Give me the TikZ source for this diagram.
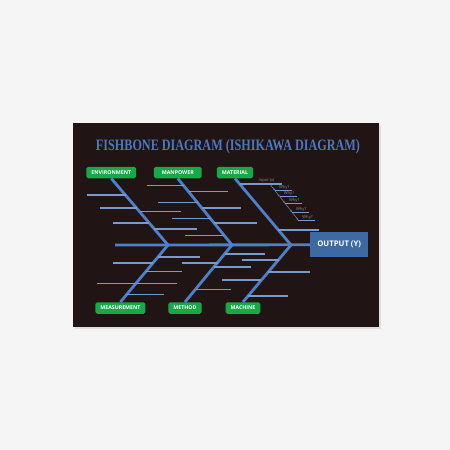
\documentclass[tikz,border=0pt]{standalone}
\usepackage{graphicx}
\usepackage{fontspec}
\setsansfont{Open Sans}
\newfontfamily\titlefont{Liberation Serif}
\usepackage{tikz}
\usetikzlibrary{arrows.meta}
\definecolor{pagebg}{RGB}{245,245,245}
\definecolor{boardbg}{RGB}{33,20,20}
\definecolor{titleblue}{RGB}{78,120,186}
\definecolor{bonecolor}{RGB}{76,128,200}
\definecolor{ribcolor}{RGB}{122,154,204}
\definecolor{causegreen}{RGB}{23,168,71}
\definecolor{effectblue}{RGB}{62,106,163}
\definecolor{whygray}{RGB}{140,140,150}
\tikzset{
    cause/.style={fill=causegreen, rounded corners=1.5pt, text=white, font=\sffamily\bfseries\fontsize{4.5}{5}\selectfont, minimum height=0.345cm, inner xsep=0.15cm, inner ysep=0pt},
    effect/.style={fill=effectblue, text=white, font=\sffamily\bfseries\fontsize{6.6}{7}\selectfont, minimum width=1.75cm, minimum height=0.75cm, inner sep=0pt},
    bone/.style={draw=bonecolor, line width=2.4pt},
    rib/.style={draw=ribcolor, line width=1.7pt},
    whyline/.style={draw=ribcolor, line width=0.6pt},
    whystep/.style={draw=whygray, line width=0.4pt, -{Stealth[length=1.8pt, width=1.5pt]}},
    whytext/.style={text=whygray, font=\sffamily\fontsize{3.5}{4}\selectfont, inner sep=0.4pt, anchor=south}
}
\begin{document}
\begin{tikzpicture}[x=0.03cm, y=-0.03cm]
            \fill[pagebg] (0,0) rectangle (450,450);
            \useasboundingbox (0,0) rectangle (450,450);
            \fill[gray!25] (75,125) rectangle (380.5,328.5);
            \fill[boardbg] (73,123) rectangle (379,327);

            \node[anchor=base, text=titleblue, inner sep=0pt] (title) at (228,150.5) {\resizebox{7.92cm}{0.33cm}{\titlefont\bfseries FISHBONE DIAGRAM (ISHIKAWA DIAGRAM)}};

            \node[cause] (env) at (111.3,172.5) {ENVIRONMENT};
            \node[cause, minimum width=1.43cm] (manpower) at (177.8,172.5) {MANPOWER};
            \node[cause] (material) at (235,172.5) {MATERIAL};
            \node[cause] (measurement) at (120.4,308) {MEASUREMENT};
            \node[cause] (method) at (185,308) {METHOD};
            \node[cause] (machine) at (243,308) {MACHINE};
            \node[effect] (output) at (339.2,244.8) {OUTPUT (Y)};

            \coordinate (tail) at (115,245);
            \coordinate (headA) at (168,245);
            \coordinate (headB) at (232,245);
            \coordinate (headC) at (291,245);

            % spine and main bones
            \draw[bone] (tail)--(output.west);
            \draw[bone] (env.south)--(headA);
            \draw[bone] (manpower.south)--(headB);
            \draw[bone] (material.south)--(headC);
            \draw[bone] (headA)--(measurement.north);
            \draw[bone] (headB)--(method.north);
            \draw[bone] (headC)--(machine.north);

            % environment ribs
            \draw[rib] (87,195)--(125.5,195);
            \draw[rib] (100,208)--(136.5,208);
            \draw[rib] (139.5,211.5)--(181,211.5);
            \draw[rib] (113,223)--(149.3,223);
            \draw[rib] (154.4,229)--(197,229);

            % manpower ribs
            \draw[rib] (147,185.5)--(183.7,185.5);
            \draw[rib] (188.5,191.5)--(228,191.5);
            \draw[rib] (158,202.5)--(197.5,202.5);
            \draw[rib] (201.9,208)--(241,208);
            \draw[rib] (172,218.5)--(210.5,218.5);
            \draw[rib] (214.1,223)--(257,223);
            \draw[rib] (185,235.5)--(224.3,235.5);

            % material ribs
            \draw[rib] (240,184.3)--(282,184.3);
            \draw[rib] (278.4,230)--(319,230);

            % measurement ribs
            \draw[rib] (158.3,256.7)--(200,256.7);
            \draw[rib] (113,262.7)--(153.3,262.7);
            \draw[rib] (146,271.5)--(182,271.5);
            \draw[rib] (96.7,283.5)--(176.7,283.5);
            \draw[rib] (126.9,294.5)--(164,294.5);

            % method ribs
            \draw[rib] (224.6,254)--(265,254);
            \draw[rib] (182,262.7)--(217.5,262.7);
            \draw[rib] (213.7,267.3)--(251,267.3);
            \draw[rib] (195.5,289.5)--(231,289.5);

            % machine ribs
            \draw[rib] (241.7,259.7)--(278.7,259.7);
            \draw[rib] (268.1,272.3)--(310,272.3);
            \draw[rib] (222,280.3)--(261.4,280.3);
            \draw[rib] (248.3,296)--(288,296);

            % why chain
            \node[whytext] (input) at (266.5,183.6) {Input (x)};
            \coordinate (why0) at (270,184.3);
            \coordinate (why1) at (274.9,190.5);
            \coordinate (why2) at (279.6,196.5);
            \coordinate (why3) at (284.8,203);
            \coordinate (why4) at (291.9,212);
            \coordinate (why5) at (298.2,220);

            \draw[whystep] (why0)--(why1);
            \draw[whystep] (why1)--(why2);
            \draw[whystep] (why2)--(why3);
            \draw[whystep] (why3)--(why4);
            \draw[whystep] (why4)--(why5);

            \draw[whyline] (why1)--++(17,0) node[whytext, pos=0.55] {Why?};
            \draw[whyline] (why2)--++(17,0) node[whytext, pos=0.55] {Why?};
            \draw[whyline] (why3)--++(17,0) node[whytext, pos=0.55] {Why?};
            \draw[whyline] (why4)--++(17,0) node[whytext, pos=0.55] {Why?};
            \draw[whyline] (why5)--++(17,0) node[whytext, pos=0.55] {Why?};
\end{tikzpicture}
\end{document}
